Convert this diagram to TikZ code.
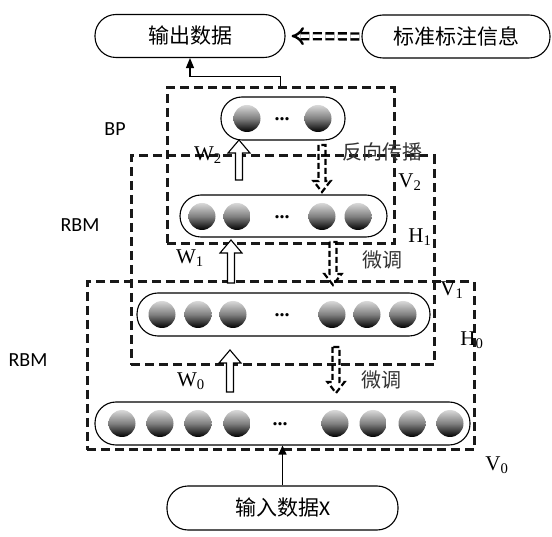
\documentclass[tikz,border=0pt]{standalone}
\usepackage{fontspec}
\setmainfont{Liberation Serif}
\newfontfamily\cjk{Noto Sans CJK SC}
\newfontfamily\calfont{Carlito}
\usetikzlibrary{arrows.meta}
\newcommand{\blockup}[3]{%
  \draw[fill=white, line width=1.1pt, line join=miter] (#1-3.5,#2) -- (#1-3.5,#3+13) -- (#1-11,#3+13) -- (#1,#3) -- (#1+11,#3+13) -- (#1+3.5,#3+13) -- (#1+3.5,#2) -- cycle;}
\newcommand{\blockdown}[3]{%
  \draw[line width=2.2pt, dash pattern=on 6pt off 3pt, line join=miter] (#1-3.5,#2) -- (#1-3.5,#3-11) -- (#1-8.5,#3-11) -- (#1,#3) -- (#1+8.5,#3-11) -- (#1+3.5,#3-11) -- (#1+3.5,#2) -- cycle;}
\begin{document}
\begin{tikzpicture}[x=1pt,y=-1pt,
  term/.style={draw, line width=1.1pt, rounded corners=21pt, minimum height=43pt, inner sep=0pt, font=\cjk\fontsize{21}{24}\selectfont},
  layer/.style={draw, line width=1.1pt, rounded corners=21pt, minimum height=43pt, inner sep=0pt},
  ball/.style={circle, minimum size=27pt, inner sep=0pt, shade, top color=black!15, bottom color=black, middle color=black!50},
  dbox/.style={draw=black!90, line width=3pt, dash pattern=on 9pt off 5pt, minimum width=#1, inner sep=0pt},
  sanslab/.style={font=\calfont\fontsize{20}{24}\selectfont},
  serlab/.style={font=\fontsize{21}{24}\selectfont},
  cjklab/.style={font=\cjk\fontsize{20}{24}\selectfont, text=black!80},
  dots/.style={font=\bfseries\fontsize{20}{22}\selectfont}
]
\useasboundingbox (0,0) rectangle (552,537);

% top terminals
\node[term, minimum width=190pt] (out) at (190,36) {输出数据};
\node[term, minimum width=188pt] (std) at (456,36.5) {标准标注信息};
\node[term, minimum width=231pt, minimum height=44pt] (inp) at (282.5,508) {输入数据{\calfont X}};

% dashed boxes
\node[dbox=227pt, minimum height=156pt] (bp) at (280.5,166) {};
\node[dbox=303pt, minimum height=209pt] (rbmA) at (282.5,260.5) {};
\node[dbox=387pt, minimum height=168pt] (rbmB) at (280.5,366) {};

% layers
\node[layer, minimum width=124pt] (L3) at (283,118.5) {};
\node[layer, minimum width=207pt, minimum height=42pt] (L2) at (283.5,216) {};
\node[layer, minimum width=293pt] (L1) at (283.5,314.5) {};
\node[layer, minimum width=375pt] (L0) at (282.5,423.5) {};

% balls
\foreach \x [count=\i] in {247,318} \node[ball] (b3\i) at (\x,118.5) {};
\node[dots] (d3) at (282,119) {...};
\foreach \x [count=\i] in {202,237,322,358} \node[ball] (b2\i) at (\x,216.5) {};
\node[dots] (d2) at (282,217) {...};
\foreach \x [count=\i] in {162,198,233,332,367,403} \node[ball] (b1\i) at (\x,314.5) {};
\node[dots] (d1) at (282,315) {...};
\foreach \x [count=\i] in {122,160,198,237,335,373,412,450} \node[ball] (b0\i) at (\x,423.5) {};
\node[dots] (d0) at (280,424) {...};

% connectors
\draw[line width=2.4pt, double distance=3.5pt, dash pattern=on 9pt off 3.5pt, -{Implies[length=9pt]}, shorten >=6pt, shorten <=2pt] (std.west) -- (out.east);
\draw[line width=1.1pt, -{Triangle[length=10pt,width=8pt]}] (bp.north) -- ++(0,-10) -| (out.south);
\draw[line width=1.1pt, -{Triangle[length=9pt,width=8pt]}] (inp.north) -- (L0.south);

% block arrows
\blockup{239}{180}{140}
\blockup{231}{283}{240}
\blockup{230}{392}{350}
\blockdown{322}{145}{192}
\blockdown{333}{242}{285}
\blockdown{336}{347}{393}

% labels
\node[sanslab] (lbp) at (115,129) {BP};
\node[sanslab] (lrbm1) at (80,225) {RBM};
\node[sanslab] (lrbm0) at (28,360) {RBM};
\node[serlab] (w2) at (208,155) {W\textsubscript{2}};
\node[serlab] (w1) at (190,258) {W\textsubscript{1}};
\node[serlab] (w0) at (191,381) {W\textsubscript{0}};
\node[serlab] (v2) at (410,182) {V\textsubscript{2}};
\node[serlab] (h1) at (420,237) {H\textsubscript{1}};
\node[serlab] (v1) at (452,290) {V\textsubscript{1}};
\node[serlab] (h0) at (472,340) {H\textsubscript{0}};
\node[serlab] (v0) at (497,465) {V\textsubscript{0}};
\node[cjklab] (fx) at (382,152) {反向传播};
\node[cjklab] (wt1) at (382,260) {微调};
\node[cjklab] (wt0) at (381,380) {微调};
\end{tikzpicture}
\end{document}
